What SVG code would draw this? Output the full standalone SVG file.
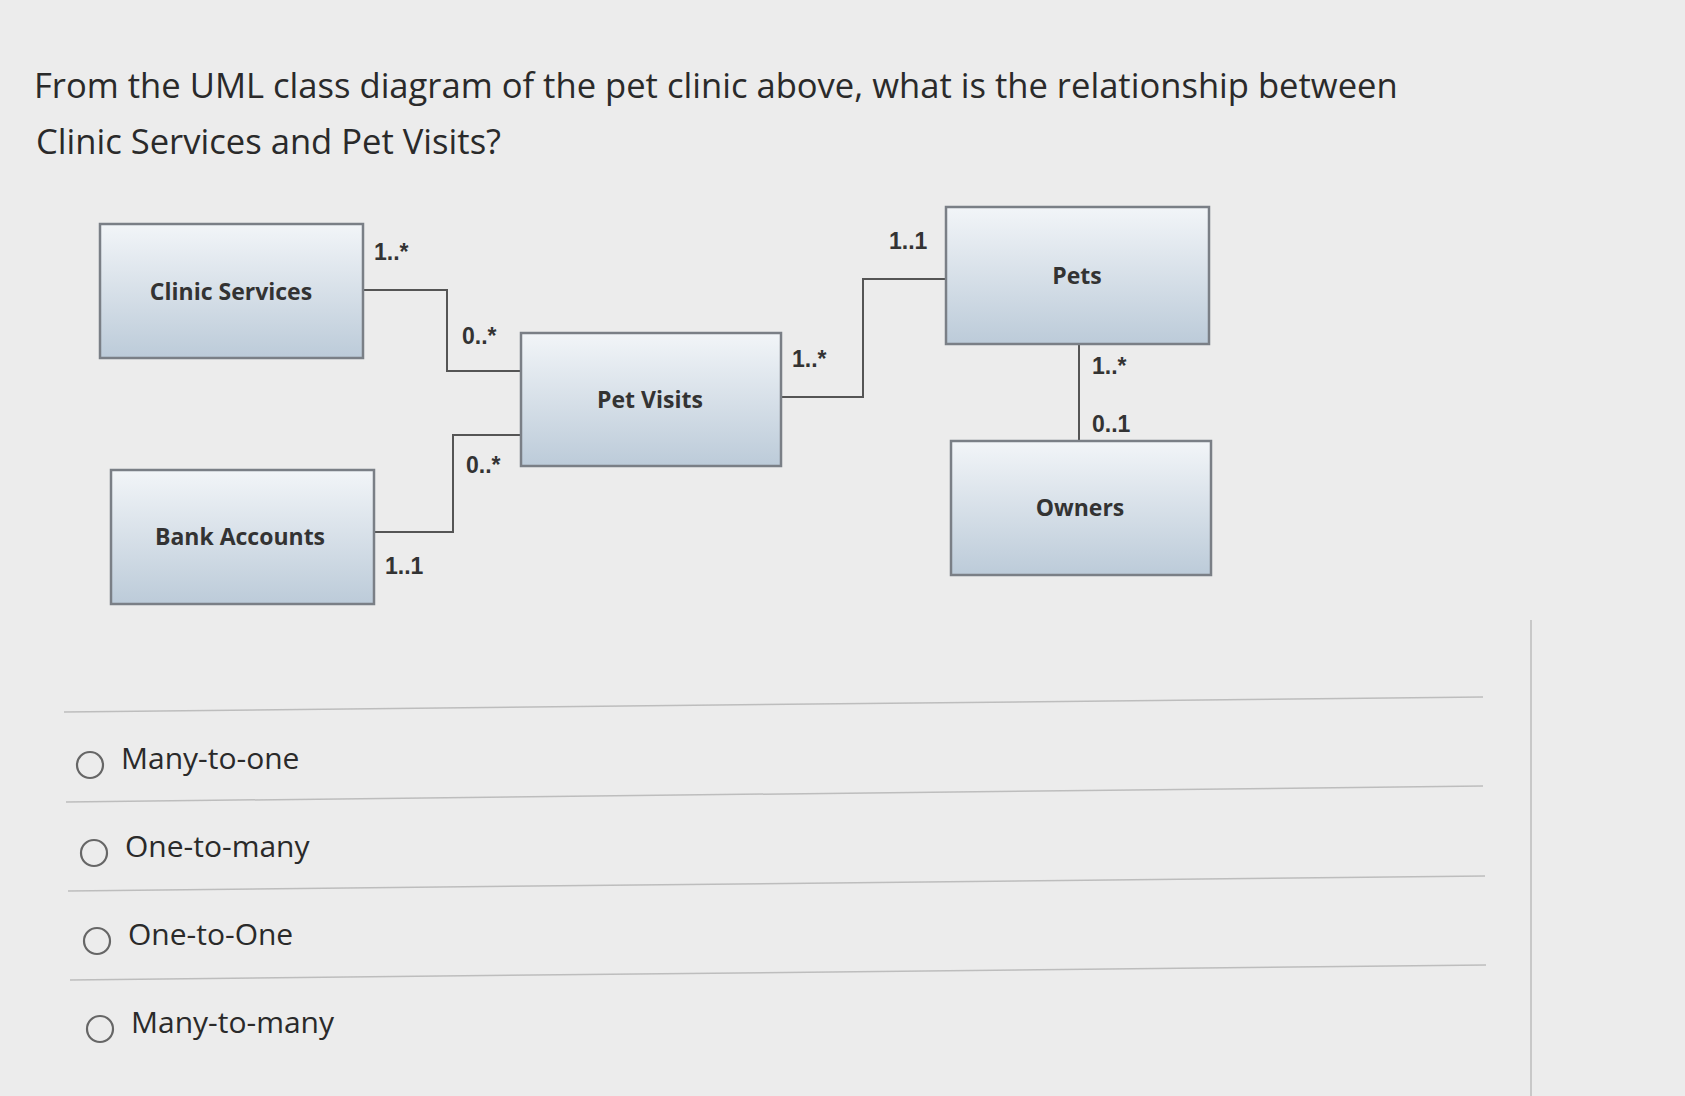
<svg xmlns="http://www.w3.org/2000/svg" width="1685" height="1096" viewBox="0 0 1685 1096">
<style>
.t{font-family:"Open Sans","Liberation Sans",sans-serif;fill:#2a2a2a}
.h{font-size:34.6px}
.n{font-size:23px;font-weight:bold;fill:#333}
.m{font-family:"Liberation Sans",sans-serif;font-size:23px;font-weight:bold;fill:#333}
.o{font-size:30px}
.box{fill:url(#g);stroke:#7a7f86;stroke-width:2.5}
.c{fill:none;stroke:#555;stroke-width:2}
.r{fill:none;stroke:#666;stroke-width:2.2}
.sep{stroke:#bdbdbd;stroke-width:1.5}
</style>
<defs>
<linearGradient id="g" x1="0" y1="0" x2="0" y2="1">
<stop offset="0" stop-color="#f2f5f8"/><stop offset="1" stop-color="#bccbd9"/>
</linearGradient>
</defs>
<rect width="1685" height="1096" fill="#ececec"/>
<line x1="1531" y1="620" x2="1531" y2="1096" stroke="#c8c8c8" stroke-width="2"/>
<text class="t h" x="34" y="98">From the UML class diagram of the pet clinic above, what is the relationship between</text>
<text class="t h" x="36" y="154">Clinic Services and Pet Visits?</text>
<g id="connectors">
<polyline class="c" points="363,290 447,290 447,371 521,371"/>
<polyline class="c" points="374,532 453,532 453,435 521,435"/>
<polyline class="c" points="781,397 863,397 863,279 946,279"/>
<line class="c" x1="1079" y1="344" x2="1079" y2="441"/>
<text class="m" x="374" y="260">1..*</text>
<text class="m" x="462" y="344">0..*</text>
<text class="m" x="466" y="473">0..*</text>
<text class="m" x="385" y="574">1..1</text>
<text class="m" x="792" y="367">1..*</text>
<text class="m" x="889" y="249">1..1</text>
<text class="m" x="1092" y="374">1..*</text>
<text class="m" x="1092" y="432">0..1</text>
</g>
<g id="clinic"><rect class="box" x="100" y="224" width="263" height="134"/><text class="t n" x="231" y="300" text-anchor="middle">Clinic Services</text></g>
<g id="bank"><rect class="box" x="111" y="470" width="263" height="134"/><text class="t n" x="240" y="545" text-anchor="middle">Bank Accounts</text></g>
<g id="petvisits"><rect class="box" x="521" y="333" width="260" height="133"/><text class="t n" x="650" y="408" text-anchor="middle">Pet Visits</text></g>
<g id="pets"><rect class="box" x="946" y="207" width="263" height="137"/><text class="t n" x="1077" y="284" text-anchor="middle">Pets</text></g>
<g id="owners"><rect class="box" x="951" y="441" width="260" height="134"/><text class="t n" x="1080" y="516" text-anchor="middle">Owners</text></g>
<line class="sep" x1="64" y1="712" x2="1483" y2="697"/>
<line class="sep" x1="66" y1="802" x2="1483" y2="786"/>
<line class="sep" x1="68" y1="891" x2="1485" y2="876"/>
<line class="sep" x1="70" y1="980" x2="1486" y2="965"/>
<g id="opt1"><circle class="r" cx="90" cy="765" r="13"/><text class="t o" x="121" y="769">Many-to-one</text></g>
<g id="opt2"><circle class="r" cx="94" cy="853" r="13"/><text class="t o" x="125" y="857">One-to-many</text></g>
<g id="opt3"><circle class="r" cx="97" cy="941" r="13"/><text class="t o" x="128" y="945">One-to-One</text></g>
<g id="opt4"><circle class="r" cx="100" cy="1029" r="13"/><text class="t o" x="131" y="1033">Many-to-many</text></g>
</svg>
